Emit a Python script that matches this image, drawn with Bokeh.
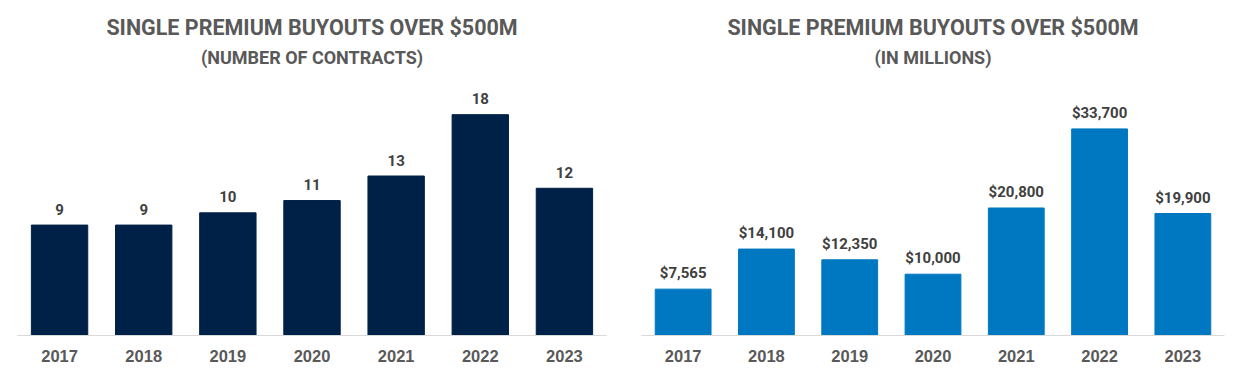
from bokeh.plotting import figure
from bokeh.models import ColumnDataSource, Title, FactorRange, Range1d
from bokeh.layouts import row
from bokeh.core.properties import value
from bokeh.embed import file_html
from bokeh.resources import INLINE

years = ["2017", "2018", "2019", "2020", "2021", "2022", "2023"]
contracts = [9, 9, 10, 11, 13, 18, 12]
premiums = [7565, 14100, 12350, 10000, 20800, 33700, 19900]
contract_labels = [str(v) for v in contracts]
premium_labels = ["$" + format(v, ",") for v in premiums]

title_main = "SINGLE PREMIUM BUYOUTS OVER $500M"
sub_left = "(NUMBER OF CONTRACTS)"
sub_right = "(IN MILLIONS)"

TITLE_FONT = "Roboto"
LABEL_FONT = "Roboto"
AXIS_FONT = "Liberation Sans"


def make(vals, labels, ymax, color, sub, width, bl, br):
    src = ColumnDataSource(dict(year=years, val=vals, label=labels))
    p = figure(x_range=FactorRange(factors=years, range_padding=0),
               y_range=Range1d(0, ymax), width=width, height=369,
               output_backend="svg", toolbar_location=None,
               min_border_left=bl, min_border_right=br,
               min_border_top=70, min_border_bottom=34)
    p.vbar(x="year", top="val", width=0.67, color=color, source=src)
    p.text(x="year", y="val", text="label", source=src,
           text_align="center", text_baseline="alphabetic", y_offset=-16,
           text_font=value(LABEL_FONT), text_font_size="15px",
           text_font_style="bold", text_color="#404040")
    p.add_layout(Title(text=sub, align="center", text_font=TITLE_FONT,
                       text_font_size="18px", text_font_style="bold",
                       text_color="#595959", standoff=6), "above")
    p.add_layout(Title(text=title_main, align="center", text_font=TITLE_FONT,
                       text_font_size="21.5px", text_font_style="bold",
                       text_color="#595959", standoff=3), "above")
    p.yaxis.visible = False
    p.xgrid.grid_line_color = None
    p.ygrid.grid_line_color = None
    p.outline_line_color = None
    p.xaxis.axis_line_color = "#d9d9d9"
    p.xaxis.axis_line_width = 1
    p.xaxis.major_tick_line_color = None
    p.xaxis.minor_tick_line_color = None
    p.xaxis.major_tick_in = 0
    p.xaxis.major_tick_out = 0
    p.xaxis.major_label_standoff = 14
    p.xaxis.major_label_text_font = AXIS_FONT
    p.xaxis.major_label_text_font_size = "16.5px"
    p.xaxis.major_label_text_font_style = "bold"
    p.xaxis.major_label_text_color = "#595959"
    return p


left = make(contracts, contract_labels, 21.6, "#002147", sub_left, 619, 17, 13)
right = make(premiums, premium_labels, 43230, "#0078c1", sub_right, 607, 22, 2)

layout = row(left, right)
open("out.html", "w").write(file_html(layout, INLINE))
